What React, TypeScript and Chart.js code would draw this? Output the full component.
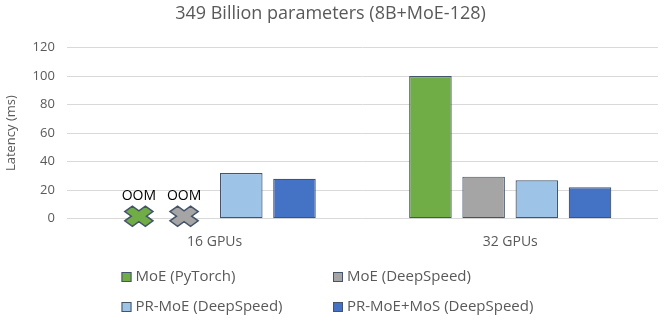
import React, { useEffect, useRef } from "react";
import { Chart, registerables } from "chart.js";

Chart.register(...registerables);

const categories = ["16 GPUs", "32 GPUs"];
const seriesNames = ["MoE (PyTorch)", "MoE (DeepSpeed)", "PR-MoE (DeepSpeed)", "PR-MoE+MoS (DeepSpeed)"];
const moePyTorch: (number | null)[] = [null, 100];
const moeDeepSpeed: (number | null)[] = [null, 29.5];
const prMoe: (number | null)[] = [32, 27];
const prMoeMos: (number | null)[] = [28, 22];
const seriesColors = ["#70AD47", "#A5A5A5", "#9DC3E6", "#4472C4"];
const yTicks = [0, 20, 40, 60, 80, 100, 120];
const oomText = "OOM";

const FONT = "'Open Sans', 'Noto Sans', sans-serif";
const TEXT = "#595959";
const EDGE = "#44546A";

const oomPlugin = {
  id: "oomMarks",
  afterDatasetsDraw(chart: any) {
    const ctx = chart.ctx;
    const yScale = chart.scales.y;
    chart.data.datasets.forEach((ds: any, di: number) => {
      const meta = chart.getDatasetMeta(di);
      ds.data.forEach((v: any, i: number) => {
        if (v !== null) return;
        const el = meta.data[i];
        if (!el) return;
        const nudge = di === 0 ? 4 : di === 1 ? -4 : 0;
        const x = el.x + nudge;
        const y = yScale.getPixelForValue(0) - 2.5;
        const w = 4.8, L = 13;
        const base = [
          [-w, -L], [w, -L], [w, -w], [L, -w], [L, w], [w, w],
          [w, L], [-w, L], [-w, w], [-L, w], [-L, -w], [-w, -w],
        ];
        const c = Math.SQRT1_2;
        const sx = 1.12, sy = 0.8;
        ctx.save();
        ctx.beginPath();
        base.forEach(([px, py], k) => {
          const rx = (px * c - py * c) * sx + x;
          const ry = (px * c + py * c) * sy + y;
          if (k === 0) ctx.moveTo(rx, ry);
          else ctx.lineTo(rx, ry);
        });
        ctx.closePath();
        ctx.fillStyle = ds.backgroundColor;
        ctx.fill();
        ctx.lineWidth = 1.5;
        ctx.lineJoin = "miter";
        ctx.strokeStyle = EDGE;
        ctx.stroke();
        ctx.restore();
        ctx.save();
        ctx.fillStyle = "#000";
        ctx.font = `14px ${FONT}`;
        ctx.textAlign = "center";
        ctx.textBaseline = "middle";
        ctx.fillText(oomText, x, y - 20);
        ctx.restore();
      });
    });
  },
};

const legendPlugin = {
  id: "gridLegend",
  afterDraw(chart: any) {
    const ctx = chart.ctx;
    const cols = [121.5, 333];
    const rows = [277, 307];
    chart.data.datasets.forEach((ds: any, i: number) => {
      const x = cols[i % 2];
      const y = rows[Math.floor(i / 2)];
      ctx.save();
      ctx.fillStyle = ds.backgroundColor;
      ctx.fillRect(x, y - 5, 10, 10);
      ctx.strokeStyle = EDGE;
      ctx.lineWidth = 1;
      ctx.strokeRect(x + 0.5, y - 4.5, 9, 9);
      ctx.fillStyle = TEXT;
      ctx.font = `15px ${FONT}`;
      ctx.textAlign = "left";
      ctx.textBaseline = "middle";
      ctx.fillText(ds.label, x + 14, y);
      ctx.restore();
    });
  },
};

export default function App() {
  const ref = useRef<HTMLCanvasElement | null>(null);
  useEffect(() => {
    document.body.style.margin = "0";
    const series = [moePyTorch, moeDeepSpeed, prMoe, prMoeMos];
    const chart = new Chart(ref.current!, {
      type: "bar",
      data: {
        labels: categories,
        datasets: series.map((d, i) => ({
          label: seriesNames[i],
          data: d,
          backgroundColor: seriesColors[i],
          borderColor: EDGE,
          borderWidth: 1.2,
          borderSkipped: false,
          categoryPercentage: 0.72,
          barPercentage: 0.8,
        })),
      },
      options: {
        animation: false,
        responsive: false,
        maintainAspectRatio: false,
        layout: { padding: { left: 3, right: 7, top: 0, bottom: 68.5 } },
        plugins: {
          legend: { display: false },
          tooltip: { enabled: false },
          title: {
            display: true,
            text: "349 Billion parameters (8B+MoE-128)",
            color: TEXT,
            font: { family: FONT, size: 18, weight: "normal" },
            padding: { top: 3, bottom: 23 },
          },
        },
        scales: {
          x: {
            grid: { display: false },
            border: { display: false },
            ticks: { color: TEXT, font: { family: FONT, size: 14 }, padding: 7 },
          },
          y: {
            min: 0,
            max: 120,
            afterBuildTicks: (axis: any) => {
              axis.ticks = yTicks.map((v) => ({ value: v }));
            },
            grid: { color: "#D9D9D9", drawTicks: false, lineWidth: 1 },
            border: { display: false },
            ticks: { color: TEXT, font: { family: FONT, size: 13 }, padding: 12 },
            title: {
              display: true,
              text: "Latency (ms)",
              color: TEXT,
              font: { family: FONT, size: 13 },
              padding: { top: 0, bottom: 2 },
            },
          },
        },
      },
      plugins: [oomPlugin, legendPlugin],
    });
    return () => chart.destroy();
  }, []);
  return (
    <div style={{ width: 665, height: 326, background: "#fff" }}>
      <canvas ref={ref} width={665} height={326} />
    </div>
  );
}
